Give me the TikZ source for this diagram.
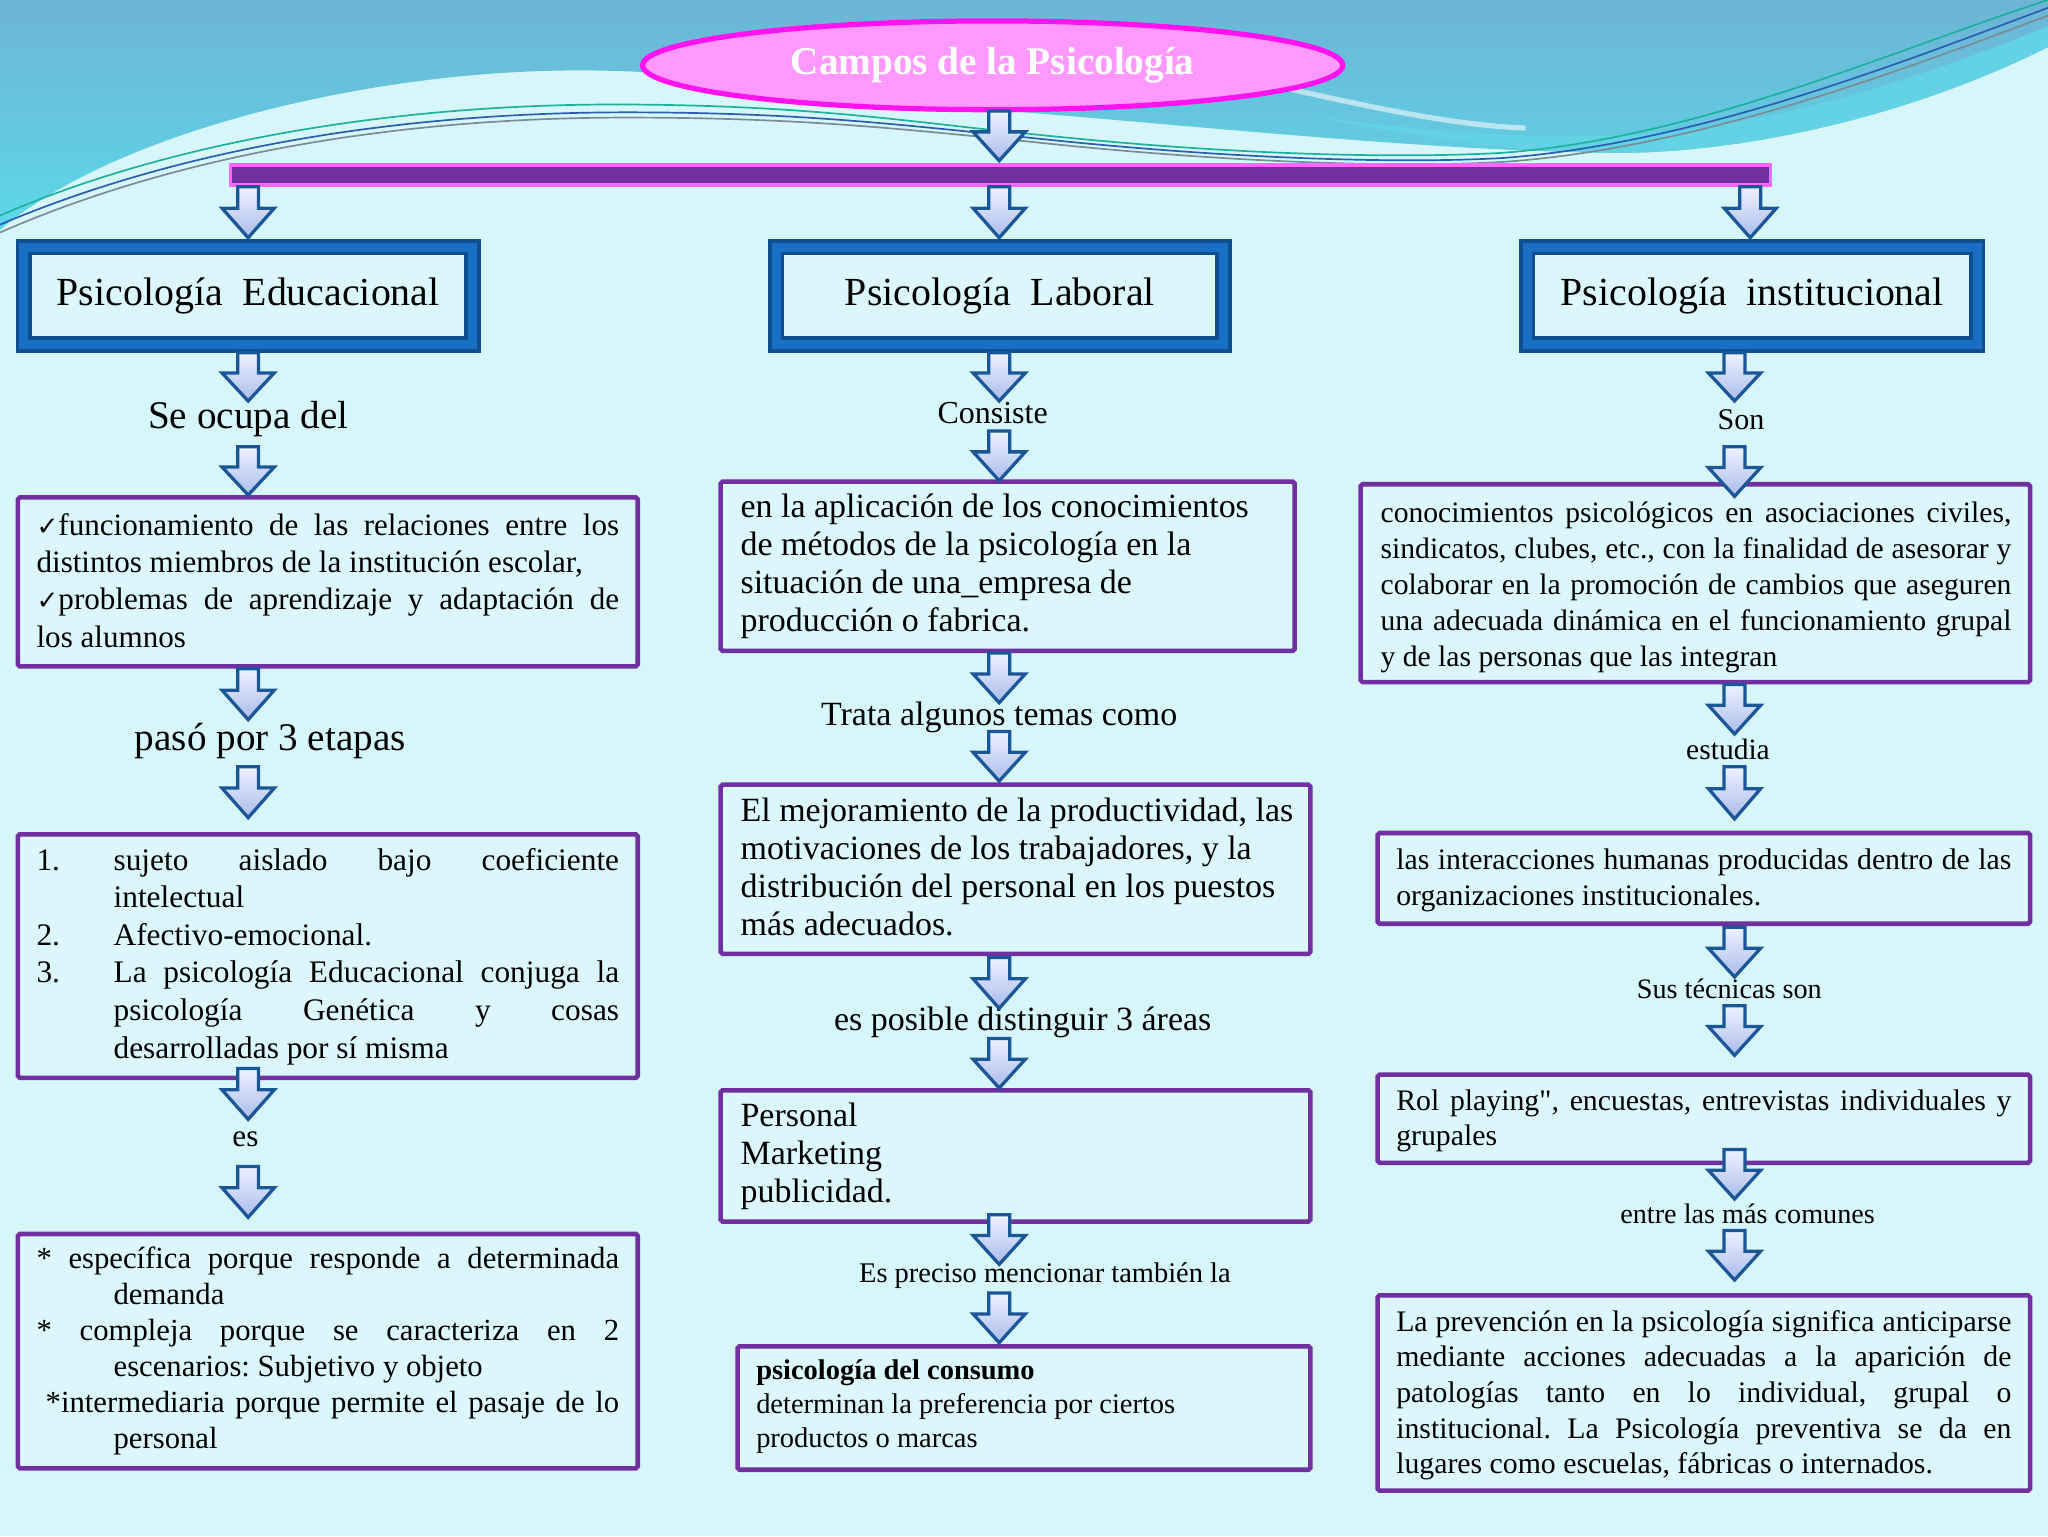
\documentclass[tikz,border=0pt]{standalone}
\usepackage{fontspec}
\setmainfont{Liberation Serif}
\newfontfamily\dejavu{DejaVu Sans}
\newfontfamily\plainserif{Liberation Serif}
\usetikzlibrary{shapes.geometric}
\definecolor{bgc}{HTML}{D7F6FA}
\definecolor{boxfill}{HTML}{DBF7FB}
\definecolor{purp}{HTML}{7030A0}
\definecolor{barpink}{HTML}{FF66FF}
\definecolor{ellfill}{HTML}{FF99FF}
\definecolor{elldraw}{HTML}{FF14F0}
\definecolor{hdrdark}{HTML}{0D4E8E}
\definecolor{hdrmid}{HTML}{1A6EC4}
\definecolor{arrowblue}{HTML}{1B5796}
\definecolor{arrtop}{HTML}{EEF2FF}
\definecolor{arrbot}{HTML}{AABCEC}
\definecolor{wtop}{HTML}{6DB4D6}
\definecolor{wbot}{HTML}{5CD8E8}
\definecolor{wband}{HTML}{62D2E4}
\definecolor{lteal}{HTML}{1CB39A}
\definecolor{lblue}{HTML}{2A5FB0}
\definecolor{lgray}{HTML}{7C8C96}
\newcommand\fs[2]{\fontsize{#1}{#2}\selectfont}
\newcommand\J[2]{\makebox[#1pt][s]{#2}}
\newcommand\ck{{\dejavu\fontsize{20}{20}\selectfont ✓}}
\newcommand\dq{{\plainserif"}}
\newcommand\barr[3]{\path[blockarrow] ({#1-8},#2) -- ({#1+8},#2) -- ({#1+8},{#2+0.42*(#3-#2)}) -- ({#1+20},{#2+0.42*(#3-#2)}) -- (#1,#3) -- ({#1-20},{#2+0.42*(#3-#2)}) -- ({#1-8},{#2+0.42*(#3-#2)}) -- cycle;}
\frenchspacing
\begin{document}
\frenchspacing
\begin{tikzpicture}[x=1pt,y=-1pt,
  every node/.style={inner sep=0pt, outer sep=0pt},
  pbox/.style={draw=purp, line width=3.5pt, fill=boxfill, rounded corners=1.5pt},
  hdr/.style={draw=hdrdark, double=hdrmid, double distance=7pt, line width=2.75pt, fill=boxfill, font=\fs{30.5}{36}},
  txt/.style={anchor=north west, align=left},
  lab/.style={anchor=center},
  blockarrow/.style={draw=arrowblue, line width=2.5pt, line join=miter, top color=arrtop, bottom color=arrbot}]
\useasboundingbox (0,0) rectangle (1568,1176);
% background
\fill[bgc] (0,0) rectangle (1568,1176);
\shade[top color=wtop, bottom color=wbot] (0,0) -- (1568,0) -- (1568,36) .. controls (1450,95) and (1320,118) .. (1234,117) .. controls (1100,116) and (900,95) .. (784,86) .. controls (700,80) and (560,52) .. (430,54) .. controls (280,56) and (90,100) .. (0,176) -- cycle;
\fill[wband] (1000,88) .. controls (1080,100) and (1160,106) .. (1234,104) .. controls (1350,100) and (1470,60) .. (1568,20) -- (1568,36) .. controls (1450,95) and (1320,118) .. (1234,117) .. controls (1150,116) and (1080,104) .. (1000,88) -- cycle;
\draw[white, opacity=.55, line width=4pt] (960,62) .. controls (1040,80) and (1110,96) .. (1168,98);
\draw[lgray, line width=1.3pt] (0,178) .. controls (160,108) and (340,90) .. (480,90) .. controls (620,90) and (700,100) .. (784,108) .. controls (950,126) and (1080,128) .. (1150,124) .. controls (1300,114) and (1460,52) .. (1568,12);
\draw[lblue, line width=1.3pt] (0,172) .. controls (160,104) and (340,86) .. (480,86) .. controls (620,86) and (700,97) .. (784,105) .. controls (950,123) and (1080,125) .. (1150,121) .. controls (1300,110) and (1460,46) .. (1568,6);
\draw[lteal, line width=1.3pt] (0,165) .. controls (150,100) and (330,80) .. (470,80) .. controls (620,80) and (700,94) .. (784,102) .. controls (950,120) and (1080,121) .. (1150,117) .. controls (1300,106) and (1450,38) .. (1568,0);
% title and bar
\node[ellipse, draw=elldraw, fill=ellfill, line width=4pt, minimum width=536pt, minimum height=68pt, text=white, font=\bfseries\fs{30}{36}] (title) at (760,50) {Campos de la Psicología};
\node[draw=barpink, fill=purp, line width=3pt, minimum width=1179pt, minimum height=15pt] (bar) at (766,134) {};
% headers
\node[hdr, minimum width=343.5pt, minimum height=74.5pt] (edu) at (190,226.5) {Psicología\ \ Educacional};
\node[hdr, minimum width=342.5pt, minimum height=74.5pt] (lab) at (765.5,226.5) {Psicología\ \ Laboral};
\node[hdr, minimum width=344.5pt, minimum height=74.5pt] (ins) at (1341.5,226.5) {Psicología\ \ institucional};
% left column
\node[lab, font=\fs{30}{36}] (l1) at (190,321) {Se ocupa del};
\node[pbox, minimum width=474.5pt, minimum height=129.5pt] (lb1) at (251,445.5) {};
\node[txt, font=\fs{23.8}{28.5}] (lb1t) at (28,390) {\strut\J{446}{\ck funcionamiento de las relaciones entre los}\\
distintos miembros de la institución escolar,\\
\J{446}{\ck problemas de aprendizaje y adaptación de}\\
los alumnos};
\node[lab, font=\fs{30}{36}] (l2) at (207,567) {pasó por 3 etapas};
\node[pbox, minimum width=474.5pt, minimum height=186.5pt] (lb2) at (251,732) {};
\node[txt, font=\fs{24}{28.8}] (lb2t) at (28,646) {\strut\makebox[59pt][l]{1.}\J{387}{sujeto aislado bajo coeficiente}\\
\hspace*{59pt}intelectual\\
\makebox[59pt][l]{2.}Afectivo-emocional.\\
\makebox[59pt][l]{3.}\J{387}{La psicología Educacional conjuga la}\\
\hspace*{59pt}\J{387}{psicología Genética y cosas}\\
\hspace*{59pt}desarrolladas por sí misma};
\node[lab, font=\fs{24}{28}] (l3) at (188,872) {es};
\node[pbox, minimum width=474.5pt, minimum height=179.5pt] (lb3) at (251,1034.5) {};
\node[txt, font=\fs{23.5}{27.6}] (lb3t) at (28,951.5) {\strut\J{446}{* específica porque responde a determinada}\\
\hspace*{59pt}demanda\\
\J{446}{* compleja porque se caracteriza en 2}\\
\hspace*{59pt}escenarios: Subjetivo y objeto\\
\hspace*{7pt}\J{439}{*intermediaria porque permite el pasaje de lo}\\
\hspace*{59pt}personal};
% middle column
\node[lab, font=\fs{24.5}{28}] (m1) at (760,316) {Consiste};
\node[pbox, minimum width=439.5pt, minimum height=129.5pt] (mb1) at (771.5,433.5) {};
\node[txt, font=\fs{26}{29}] (mb1t) at (567,376) {\strut en la aplicación de los conocimientos\\
de métodos de la psicología en la\\
situación de una\_empresa de\\
producción o fabrica.};
\node[lab, font=\fs{26}{30}] (m2) at (765,549) {Trata algunos temas como};
\node[pbox, minimum width=451.5pt, minimum height=129.5pt] (mb2) at (777.5,665.5) {};
\node[txt, font=\fs{26}{29}] (mb2t) at (567,609) {\strut El mejoramiento de la productividad, las\\
motivaciones de los trabajadores, y la\\
distribución del personal en los puestos\\
más adecuados.};
\node[lab, font=\fs{26}{30}] (m3) at (783,783) {es posible distinguir 3 áreas};
\node[pbox, minimum width=451.5pt, minimum height=100.5pt] (mb3) at (777.5,885) {};
\node[txt, font=\fs{26}{29}] (mb3t) at (567,842) {\strut Personal\\
Marketing\\
publicidad.};
\node[lab, font=\fs{21.8}{26}] (m4) at (800,977) {Es preciso mencionar también la};
\node[pbox, minimum width=438.5pt, minimum height=94.5pt] (mb4) at (784,1078) {};
\node[txt, font=\fs{21.8}{26}] (mb4t) at (579,1038) {\strut\textbf{psicología del consumo}\\
determinan la preferencia por ciertos\\
productos o marcas};
% right column
\node[lab, font=\fs{23}{27}] (r1) at (1333,321) {Son};
\node[pbox, minimum width=512.5pt, minimum height=151.5pt] (rb1) at (1298,446.5) {};
\node[txt, font=\fs{22.7}{27.5}] (rb1t) at (1057,381) {\strut\J{483}{conocimientos psicológicos en asociaciones civiles,}\\
\J{483}{sindicatos, clubes, etc., con la finalidad de asesorar y}\\
\J{483}{colaborar en la promoción de cambios que aseguren}\\
\J{483}{una adecuada dinámica en el funcionamiento grupal}\\
y de las personas que las integran};
\node[lab, font=\fs{22.6}{27}] (r2) at (1323,574) {estudia};
\node[pbox, minimum width=499.5pt, minimum height=69.5pt] (rb2) at (1304.5,672.5) {};
\node[txt, font=\fs{22.8}{27}] (rb2t) at (1069,647) {\strut\J{471}{las interacciones humanas producidas dentro de las}\\
organizaciones institucionales.};
\node[lab, font=\fs{21.6}{27}] (r3) at (1324,757) {Sus técnicas son};
\node[pbox, minimum width=499.5pt, minimum height=67.5pt] (rb3) at (1304.5,856.5) {};
\node[txt, font=\fs{22.8}{27}] (rb3t) at (1069,831) {\strut\J{471}{Rol playing\dq, encuestas, entrevistas individuales y}\\
grupales};
\node[lab, font=\fs{21.6}{27}] (r4) at (1338,929) {entre las más comunes};
\node[pbox, minimum width=499.5pt, minimum height=149.5pt] (rb4) at (1304.5,1066.5) {};
\node[txt, font=\fs{22.8}{27.3}] (rb4t) at (1069,1000) {\strut\J{471}{La prevención en la psicología significa anticiparse}\\
\J{471}{mediante acciones adecuadas a la aparición de}\\
\J{471}{patologías tanto en lo individual, grupal o}\\
\J{471}{institucional. La Psicología preventiva se da en}\\
lugares como escuelas, fábricas o internados.};
% block arrows
\barr{765}{85}{123}
\barr{190}{143}{182}
\barr{765}{143}{182}
\barr{1340}{143}{182}
\barr{190}{270}{307}
\barr{190}{342}{379}
\barr{190}{512}{551}
\barr{190}{587}{626}
\barr{190}{818}{857}
\barr{190}{893}{932}
\barr{765}{270}{307}
\barr{765}{330}{368}
\barr{765}{500}{538}
\barr{765}{560}{598}
\barr{765}{733}{772}
\barr{765}{795}{833}
\barr{765}{930}{968}
\barr{765}{990}{1028}
\barr{1328}{270}{307}
\barr{1328}{342}{380}
\barr{1328}{524}{562}
\barr{1328}{587}{627}
\barr{1328}{710}{748}
\barr{1328}{770}{808}
\barr{1328}{880}{918}
\barr{1328}{942}{980}
\end{tikzpicture}
\end{document}
